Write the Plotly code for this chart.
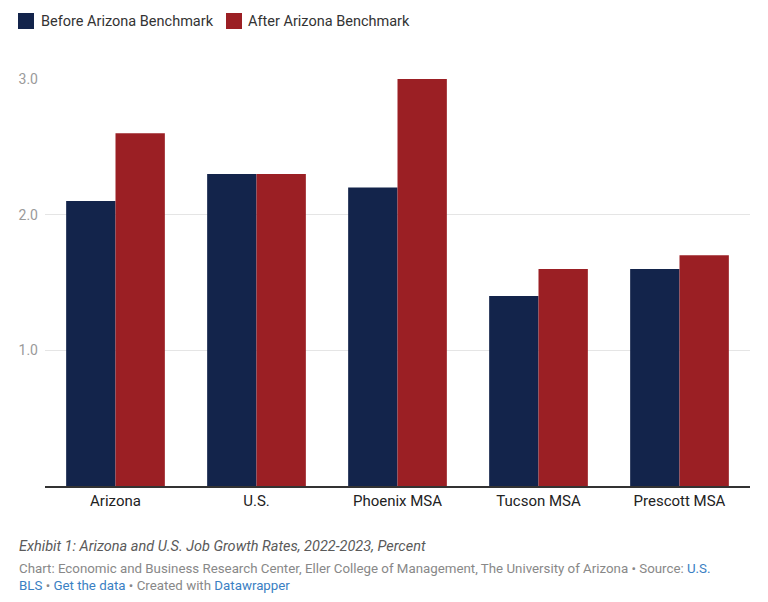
import plotly.graph_objects as go

categories = ["Arizona", "U.S.", "Phoenix MSA", "Tucson MSA", "Prescott MSA"]
before = [2.1, 2.3, 2.2, 1.4, 1.6]
after = [2.6, 2.3, 3.0, 1.6, 1.7]
series_names = ["Before Arizona Benchmark", "After Arizona Benchmark"]
tick_vals = [1.0, 2.0, 3.0]
tick_text = ["1.0", "2.0", "3.0"]

FONT = "Roboto, Arial, sans-serif"
NAVY = "#13244b"
RED = "#9b1f24"
BLUE = "#3a80c3"

OFF = 8  # default page body margin
W, H = 768 - OFF, 602 - OFF
L, R, T, B = 45 - OFF, 18, 79 - OFF, 116
PW, PH = W - L - R, H - T - B


def px_x(px):
    return (px - OFF - L) / PW


def px_y(py):
    return (H - B - (py - OFF)) / PH


fig = go.Figure()
fig.add_trace(go.Bar(x=categories, y=before, name=series_names[0],
                     marker=dict(color=NAVY, line=dict(width=0)), hoverinfo="skip"))
fig.add_trace(go.Bar(x=categories, y=after, name=series_names[1],
                     marker=dict(color=RED, line=dict(width=0)), hoverinfo="skip"))

fig.update_layout(
    width=W, height=H,
    margin=dict(l=L, r=R, t=T, b=B),
    paper_bgcolor="white", plot_bgcolor="white",
    barmode="group", bargap=0.3, bargroupgap=0,
    font=dict(family=FONT, size=14, color="#333333"),
    showlegend=False,
    xaxis=dict(showgrid=False, showline=True, linecolor="#333333", linewidth=1.5,
               ticks="", tickfont=dict(size=15, color="#222222"), fixedrange=True),
    yaxis=dict(range=[0, 3.0], tickvals=tick_vals, ticktext=tick_text,
               showgrid=True, gridcolor="#e5e5e5", gridwidth=1, zeroline=False,
               showline=False, ticks="", tickfont=dict(size=14, color="#9a9a9a"),
               ticklabelstandoff=6, fixedrange=True),
)

# legend (manual, to match swatch size)
legend_items = [(18, 39, NAVY, series_names[0]), (226, 246, RED, series_names[1])]
for sx, tx, col, name in legend_items:
    fig.add_shape(type="rect", xref="paper", yref="paper",
                  x0=px_x(sx), x1=px_x(sx + 16), y0=px_y(29), y1=px_y(13),
                  fillcolor=col, line=dict(width=0))
    fig.add_annotation(xref="paper", yref="paper", x=px_x(tx), y=px_y(21),
                       xanchor="left", yanchor="middle", showarrow=False,
                       text=name, font=dict(size=14.5, color="#333333", family=FONT))

fig.add_annotation(xref="paper", yref="paper", x=px_x(17), y=px_y(536), xanchor="left", yanchor="top",
                   showarrow=False, align="left",
                   text="<i>Exhibit 1: Arizona and U.S. Job Growth Rates, 2022-2023, Percent</i>",
                   font=dict(size=14.5, color="#5a5a5a", family=FONT))

note = ("Chart: Economic and Business Research Center, Eller College of Management, The University of Arizona "
        f"• Source: <span style='color:{BLUE}'>U.S.</span><br>"
        f"<span style='color:{BLUE}'>BLS</span> • <span style='color:{BLUE}'>Get the data</span> "
        f"• Created with <span style='color:{BLUE}'>Datawrapper</span>")
fig.add_annotation(xref="paper", yref="paper", x=px_x(17), y=px_y(559),
                   xanchor="left", yanchor="top", showarrow=False, align="left",
                   text=note, font=dict(size=13.3, color="#888888", family=FONT))

fig.write_html("out.html")
